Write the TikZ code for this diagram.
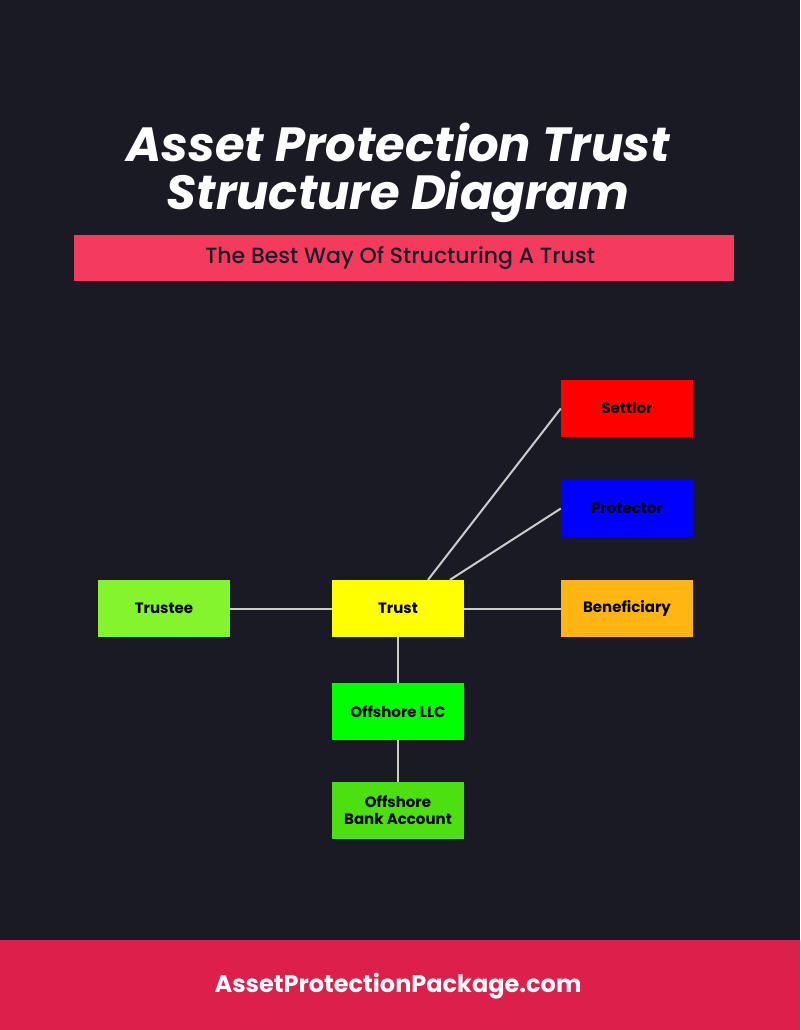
\documentclass[tikz,border=0pt]{standalone}
\usepackage{fontspec}
\setmainfont{Poppins}
\newfontfamily\subfont{Poppins}[UprightFont=* Medium]
\usetikzlibrary{positioning}
\definecolor{bgdark}{HTML}{1A1A24}
\definecolor{bandpink}{HTML}{F43B5E}
\definecolor{footred}{HTML}{DC1F4B}
\definecolor{settlorred}{HTML}{FF0000}
\definecolor{protblue}{HTML}{0000FF}
\definecolor{beneorange}{HTML}{FFB612}
\definecolor{trusteegreen}{HTML}{84F52D}
\definecolor{trustyellow}{HTML}{FFFF00}
\definecolor{llcgreen}{HTML}{00FF00}
\definecolor{bankgreen}{HTML}{4CE011}
\definecolor{linkgray}{HTML}{CCCCCC}
\begin{document}
\begin{tikzpicture}[x=1pt,y=-1pt]

\tikzset{box/.style={rectangle, minimum width=132pt, minimum height=57pt, inner sep=0pt, align=center, font=\fontsize{15}{16}\selectfont\bfseries, text=black}}
\tikzset{link/.style={draw=linkgray, line width=2pt}}

\fill[bgdark] (0,0) rectangle (800,1030);
\useasboundingbox (0,0) rectangle (800,1030);

\node (title) [text=white, align=center, font=\fontsize{48}{48}\selectfont\bfseries\itshape] at (398,173) {Asset Protection Trust\\Structure Diagram};

\fill[bandpink] (74,235) rectangle (734,281);
\node (sub) [text=bgdark, font=\fontsize{22}{24}\subfont] at (400,258) {The Best Way Of Structuring A Trust};

\node (settlor) [box, fill=settlorred] at (627,408.5) {Settlor};
\node (protector) [box, fill=protblue] at (627,508.5) {Protector};
\node (benef) [box, fill=beneorange] at (627,608.5) {Beneficiary};
\node (trustee) [box, fill=trusteegreen] at (164,608.5) {Trustee};
\node (trust) [box, fill=trustyellow] at (398,608.5) {Trust};
\node (llc) [box, fill=llcgreen] at (398,711.5) {Offshore LLC};
\node (bank) [box, fill=bankgreen, font=\fontsize{15}{17}\selectfont\bfseries] at (398,810.5) {Offshore\\Bank Account};

\draw [link] ([xshift=30pt]trust.north) -- (settlor.west);
\draw [link] ([xshift=52pt]trust.north) -- (protector.west);
\draw [link] (trust) -- (benef);
\draw [link] (trustee) -- (trust);
\draw [link] (trust) -- (llc);
\draw [link] (llc) -- (bank);

\fill[footred] (0,940) rectangle (800,1030);
\node (foot) [text=white, font=\fontsize{24}{26}\selectfont\bfseries] at (398,986) {AssetProtectionPackage.com};

\end{tikzpicture}
\end{document}
